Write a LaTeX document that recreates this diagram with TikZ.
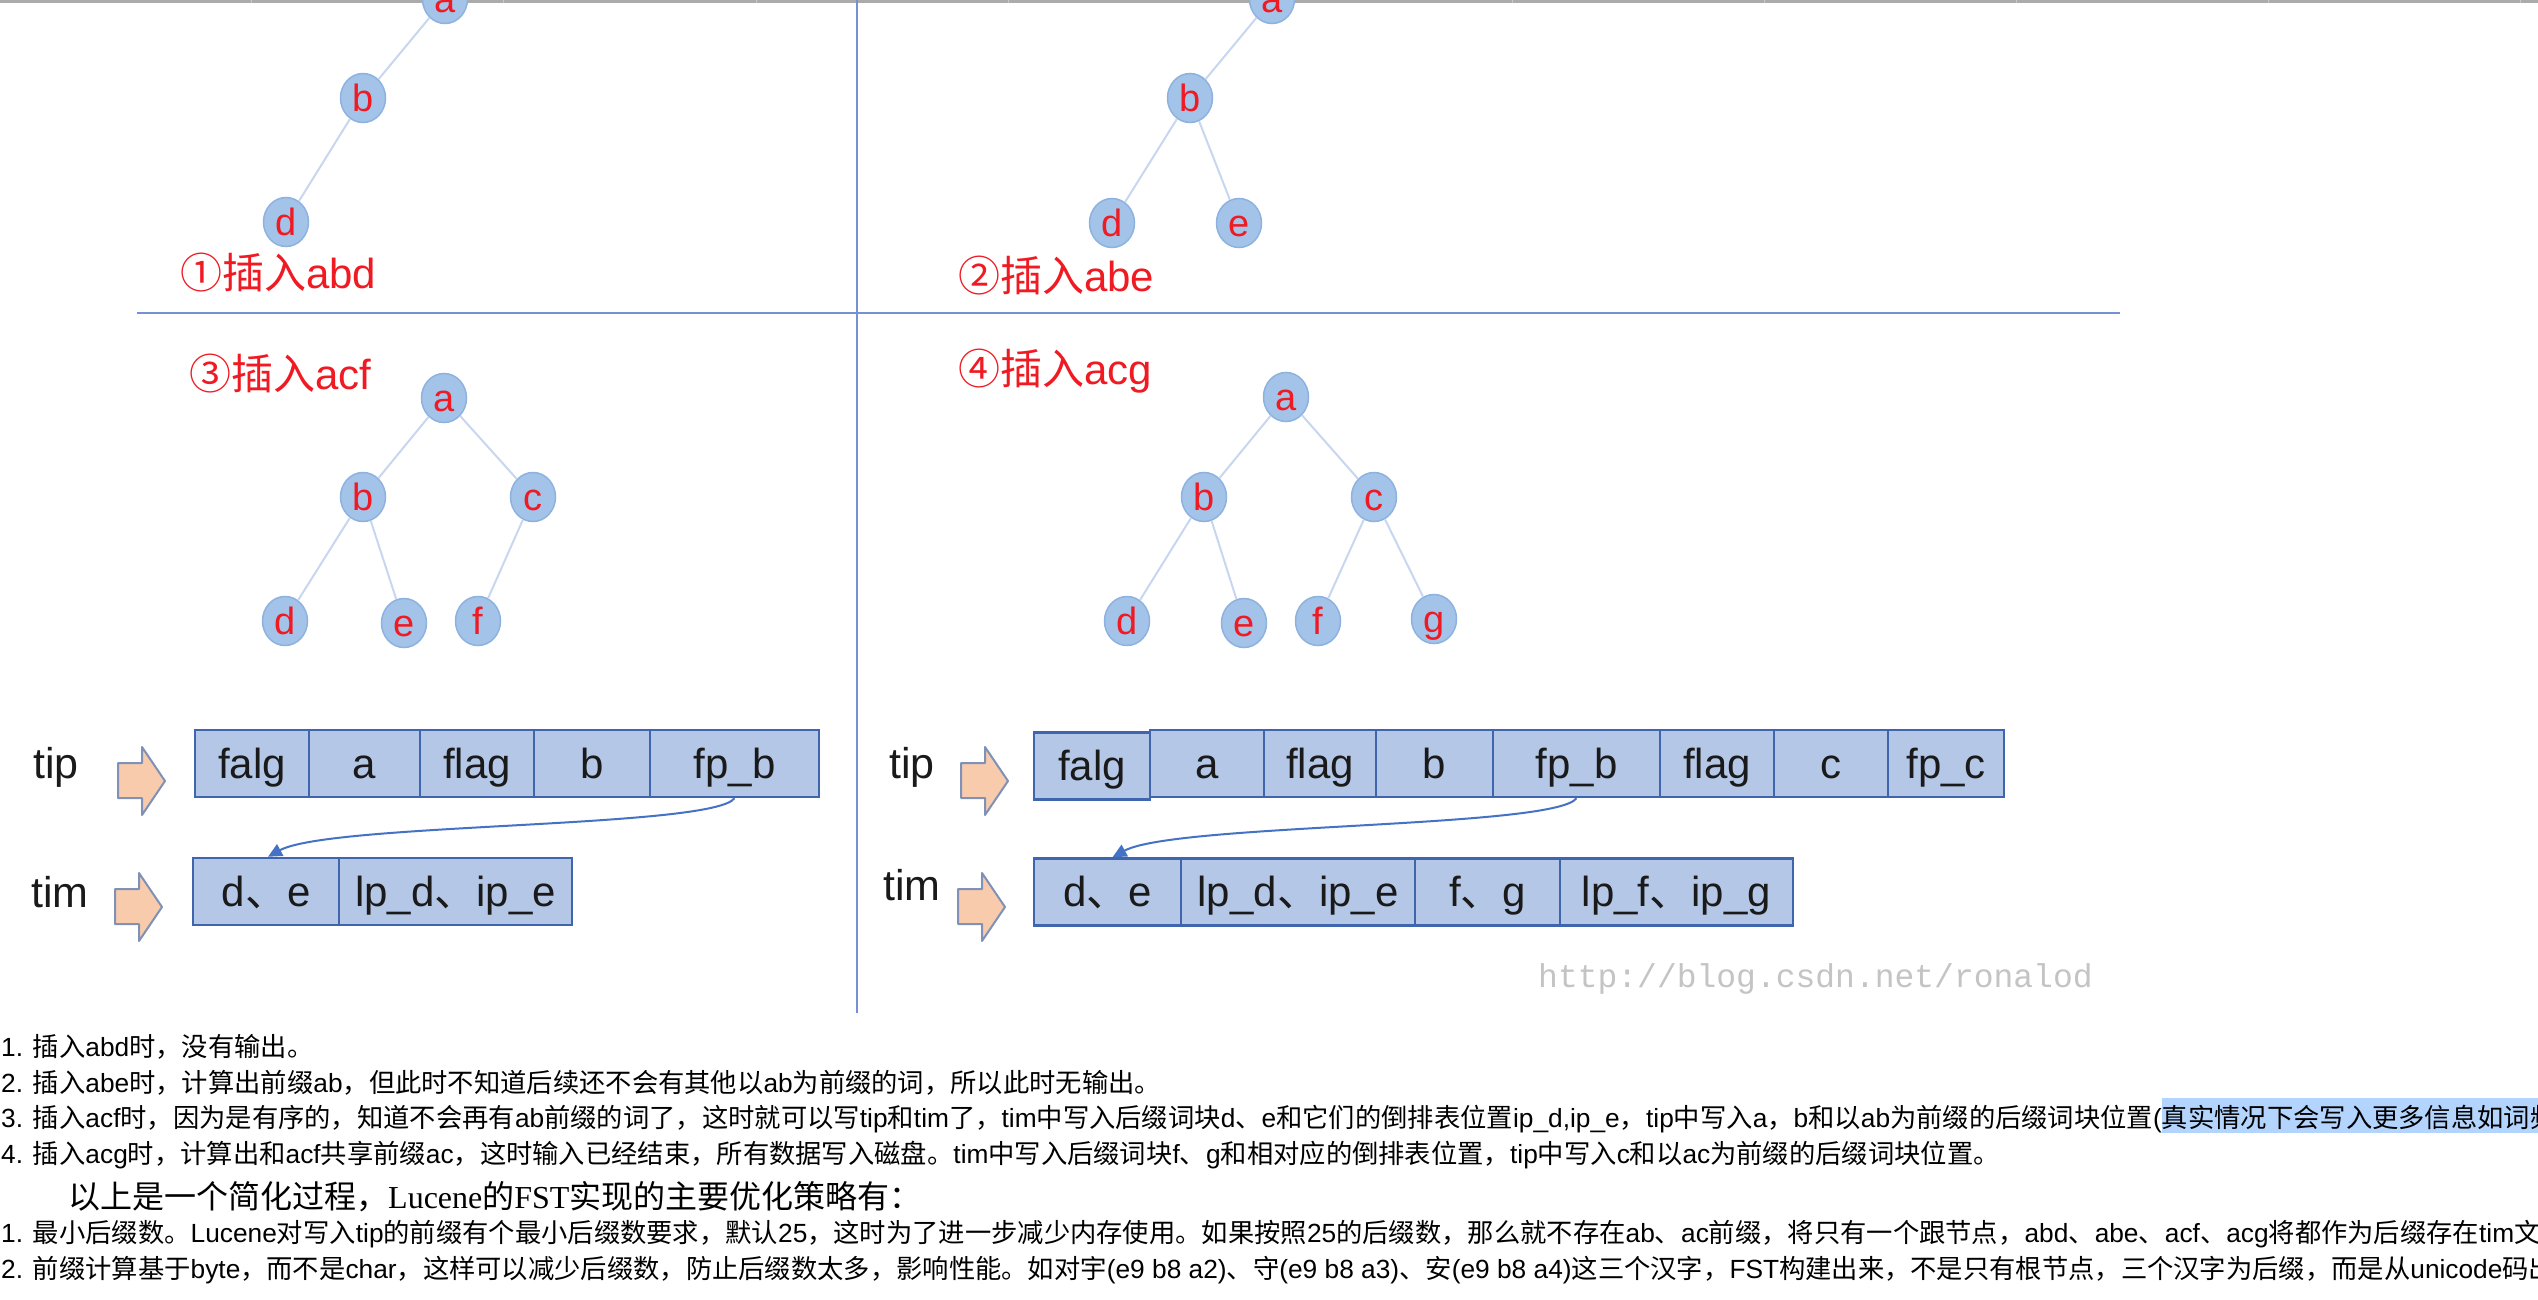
\documentclass[tikz,border=0pt]{standalone}
\usepackage{fontspec}
\setmainfont{Liberation Sans}
\newfontfamily\cjkf{Noto Sans CJK SC}
\newfontfamily\latf{Liberation Sans}
\newfontfamily\serf{Liberation Serif}
\newfontfamily\monof{Liberation Mono}
\usetikzlibrary{arrows.meta,shapes.geometric}
% automatic switch between Latin and CJK fonts
\XeTeXinterchartokenstate=1
\newcount\ucp
\chardef\mycjk=7
\def\setcls#1#2{\ucp=#1\relax\loop\XeTeXcharclass\ucp=\mycjk\relax\ifnum\ucp<#2\relax\advance\ucp by 1\relax\repeat}
\setcls{"2460}{"24FF}
\setcls{"3000}{"303F}
\setcls{"4E00}{"9FFF}
\setcls{"FF00}{"FFEF}
\XeTeXinterchartoks 0 \mycjk = {\cjkf}
\XeTeXinterchartoks 4095 \mycjk = {\cjkf}
\XeTeXinterchartoks \mycjk 0 = {\curlat}
\def\curlat{\latf}

\definecolor{nodefill}{HTML}{A4C3E9}
\definecolor{nodeedge}{HTML}{8DB2E0}
\definecolor{treeline}{HTML}{C8D7EF}
\definecolor{labred}{HTML}{F01A22}
\definecolor{cellfill}{HTML}{B4C7E7}
\definecolor{celledge}{HTML}{3F65AE}
\definecolor{divider}{HTML}{7292D2}
\definecolor{arrfill}{HTML}{F8CBAD}
\definecolor{arredge}{HTML}{7F91B6}
\definecolor{curvecol}{HTML}{4472C4}
\definecolor{hl}{HTML}{B3D5FD}
\definecolor{wm}{HTML}{C4C4C4}
\definecolor{txt}{HTML}{1A1A1A}

\newcommand\blockarr[2]{\begin{scope}[shift={(#1,#2)}]
\filldraw[fill=arrfill,draw=arredge,line width=2pt,line join=round] (-47,-18) -- (-23,-18) -- (-23,-34) -- (0,0) -- (-23,34) -- (-23,17) -- (-47,17) -- cycle;
\end{scope}}

\begin{document}
\begin{tikzpicture}[x=1pt,y=-1pt,
  tnode/.style={ellipse, draw=nodeedge, line width=1.5pt, fill=nodefill, minimum width=45pt, minimum height=49pt, inner sep=0pt, font=\latf\fontsize{38}{40}\selectfont, text=labred, text height=27pt, text depth=0pt},
  tedge/.style={draw=treeline, line width=2pt},
  steplabel/.style={anchor=base west, inner sep=0pt, text=labred, font=\latf\fontsize{42}{46}\selectfont},
  cellbox/.style={draw=celledge, line width=2.5pt, fill=cellfill, inner sep=0pt, minimum height=67pt, font=\latf\fontsize{42}{46}\selectfont, text=txt, text height=29pt, text depth=0pt},
  side/.style={anchor=base west, inner sep=0pt, font=\latf\fontsize{43}{46}\selectfont, text=txt},
  body/.style={anchor=base west, inner sep=0pt, font=\latf\fontsize{26.3}{30}\selectfont, text=black},
  link/.style={draw=curvecol, line width=2pt, -{Triangle[length=14pt,width=13pt]}}
]
\useasboundingbox (0,0) rectangle (2538,1300);
\clip (0,0) rectangle (2538,1300);
\fill[white] (0,0) rectangle (2538,1300);

% top grey bar
\fill[black!33] (0,0) rectangle (2538,3.5);
\foreach \tx in {251,503,756,1008,1260,1512,1764,2016,2268,2520}
  \draw[black!22,line width=1pt] (\tx,0) -- (\tx,3.5);

% dividers
\draw[divider,line width=2.5pt] (857,0) -- (857,1013);
\draw[divider,line width=2.5pt] (137,313) -- (2120,313);

% tree 1
\node[tnode] (t1a) at (445,-1) {a};
\node[tnode] (t1b) at (363,98) {b};
\node[tnode] (t1d) at (286,222) {d};
\draw[tedge] (t1a) -- (t1b);
\draw[tedge] (t1b) -- (t1d);
\node[steplabel] (s1) at (180,288) {①插入abd};

% tree 2
\node[tnode] (t2a) at (1272,-1) {a};
\node[tnode] (t2b) at (1190,98) {b};
\node[tnode] (t2d) at (1112,223) {d};
\node[tnode] (t2e) at (1239,223) {e};
\draw[tedge] (t2a) -- (t2b);
\draw[tedge] (t2b) -- (t2d);
\draw[tedge] (t2b) -- (t2e);
\node[steplabel] (s2) at (958,291) {②插入abe};

% tree 3
\node[tnode] (t3a) at (444,398) {a};
\node[tnode] (t3b) at (363,497) {b};
\node[tnode] (t3c) at (533,497) {c};
\node[tnode] (t3d) at (285,621) {d};
\node[tnode] (t3e) at (404,623) {e};
\node[tnode] (t3f) at (478,621) {f};
\draw[tedge] (t3a) -- (t3b);
\draw[tedge] (t3a) -- (t3c);
\draw[tedge] (t3b) -- (t3d);
\draw[tedge] (t3b) -- (t3e);
\draw[tedge] (t3c) -- (t3f);
\node[steplabel] (s3) at (189,389) {③插入acf};

% tree 4
\node[tnode] (t4a) at (1286,397) {a};
\node[tnode] (t4b) at (1204,497) {b};
\node[tnode] (t4c) at (1374,497) {c};
\node[tnode] (t4d) at (1127,621) {d};
\node[tnode] (t4e) at (1244,623) {e};
\node[tnode] (t4f) at (1318,621) {f};
\node[tnode] (t4g) at (1434,619) {g};
\draw[tedge] (t4a) -- (t4b);
\draw[tedge] (t4a) -- (t4c);
\draw[tedge] (t4b) -- (t4d);
\draw[tedge] (t4b) -- (t4e);
\draw[tedge] (t4c) -- (t4f);
\draw[tedge] (t4c) -- (t4g);
\node[steplabel] (s4) at (958,384) {④插入acg};

% left tip / tim
\node[side] (ltip) at (33,778) {tip};
\node[side] (ltim) at (31,907) {tim};
\blockarr{165}{781}
\blockarr{162}{907}
\node[cellbox, minimum width=114pt] (lc1) at (252,763.5) {falg};
\node[cellbox, minimum width=111pt] (lc2) at (364.5,763.5) {a};
\node[cellbox, minimum width=114pt] (lc3) at (477,763.5) {flag};
\node[cellbox, minimum width=116pt] (lc4) at (592,763.5) {b};
\node[cellbox, minimum width=169pt] (lfpb) at (734.5,763.5) {fp\_b};
\node[cellbox, minimum width=146pt] (lde) at (266,891.5) {d、e};
\node[cellbox, minimum width=233pt] (llp) at (455.5,891.5) {lp\_d、ip\_e};
\draw[link] (lfpb.south) .. controls +(-22,30) and +(62,-34) .. ([xshift=2pt]lde.north);

% right tip / tim
\node[side] (rtip) at (889,778) {tip};
\node[side] (rtim) at (883,900) {tim};
\blockarr{1008}{781}
\blockarr{1005}{907}
\node[cellbox, minimum width=116pt] (rc1) at (1092,766) {falg};
\node[cellbox, minimum width=114pt] (rc2) at (1207,763.5) {a};
\node[cellbox, minimum width=112pt] (rc3) at (1320,763.5) {flag};
\node[cellbox, minimum width=117pt] (rc4) at (1434.5,763.5) {b};
\node[cellbox, minimum width=167pt] (rfpb) at (1576.5,763.5) {fp\_b};
\node[cellbox, minimum width=114pt] (rc6) at (1717,763.5) {flag};
\node[cellbox, minimum width=114pt] (rc7) at (1831,763.5) {c};
\node[cellbox, minimum width=116pt] (rc8) at (1946,763.5) {fp\_c};
\node[cellbox, minimum width=147pt] (rde) at (1107.5,892) {d、e};
\node[cellbox, minimum width=234pt] (rlp1) at (1298,892) {lp\_d、ip\_e};
\node[cellbox, minimum width=145pt] (rfg) at (1487.5,892) {f、g};
\node[cellbox, minimum width=233pt] (rlp2) at (1676.5,892) {lp\_f、ip\_g};
\draw[link] (rfpb.south) .. controls +(-22,30) and +(62,-34) .. ([xshift=5pt]rde.north);

% watermark
\node[anchor=base west, inner sep=0pt, font=\monof\fontsize{33}{35}\selectfont, text=wm] (wmk) at (1538,987) {http://blog.csdn.net/ronalod};

% text below
\node[body] (p1) at (1,1056) {1. 插入abd时，没有输出。};
\node[body] (p2) at (1,1092) {2. 插入abe时，计算出前缀ab，但此时不知道后续还不会有其他以ab为前缀的词，所以此时无输出。};
\node[body] (p3) at (1,1127) {3. 插入acf时，因为是有序的，知道不会再有ab前缀的词了，这时就可以写tip和tim了，tim中写入后缀词块d、e和它们的倒排表位置ip\_d,ip\_e，tip中写入a，b和以ab为前缀的后缀词块位置({\fboxsep=0pt\colorbox{hl}{\rule[-6pt]{0pt}{35pt}真实情况下会写入更多信息如词频等)。}}};
\node[body] (p4) at (1,1163) {4. 插入acg时，计算出和acf共享前缀ac，这时输入已经结束，所有数据写入磁盘。tim中写入后缀词块f、g和相对应的倒排表位置，tip中写入c和以ac为前缀的后缀词块位置。};
\node[body, font=\serf\fontsize{32}{36}\selectfont] (hd) at (68,1208) {\def\curlat{\serf}以上是一个简化过程，Lucene的FST实现的主要优化策略有：};
\node[body] (q1) at (1,1242) {1. 最小后缀数。Lucene对写入tip的前缀有个最小后缀数要求，默认25，这时为了进一步减少内存使用。如果按照25的后缀数，那么就不存在ab、ac前缀，将只有一个跟节点，abd、abe、acf、acg将都作为后缀存在tim文件中。};
\node[body] (q2) at (1,1278) {2. 前缀计算基于byte，而不是char，这样可以减少后缀数，防止后缀数太多，影响性能。如对宇(e9 b8 a2)、守(e9 b8 a3)、安(e9 b8 a4)这三个汉字，FST构建出来，不是只有根节点，三个汉字为后缀，而是从unicode码出发。};
\end{tikzpicture}
\end{document}
